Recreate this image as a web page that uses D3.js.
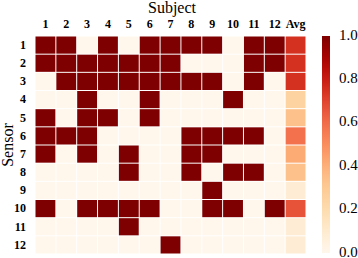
<!DOCTYPE html>
<html><head><meta charset="utf-8">
<script src="https://cdn.jsdelivr.net/npm/d3@7"></script>
<style>body{margin:0;background:#fff}svg{display:block}</style>
</head><body>
<script>
const subjects = ["1","2","3","4","5","6","7","8","9","10","11","12"];
const sensors = ["1","2","3","4","5","6","7","8","9","10","11","12"];
const row1  = [1,1,0,1,0,1,1,1,1,0,1,1];
const row2  = [1,1,1,1,1,1,1,0,0,0,1,1];
const row3  = [0,1,1,1,1,1,1,1,1,0,1,0];
const row4  = [0,0,1,0,0,1,0,0,0,1,0,0];
const row5  = [1,0,1,1,0,1,0,0,0,0,0,0];
const row6  = [1,1,1,0,0,0,0,1,1,1,1,0];
const row7  = [1,0,1,0,1,0,0,1,1,0,0,0];
const row8  = [0,0,0,0,1,0,0,1,0,1,1,0];
const row9  = [0,0,0,0,0,0,0,0,1,0,0,0];
const row10 = [1,0,1,1,1,1,0,0,1,1,0,1];
const row11 = [0,0,0,0,1,0,0,0,0,0,0,0];
const row12 = [0,0,0,0,0,0,1,0,0,0,0,0];
const colorTicks = [0,0.2,0.4,0.6,0.8,1.0];

const rows = [row1,row2,row3,row4,row5,row6,row7,row8,row9,row10,row11,row12];
const columns = subjects.concat(["Avg"]);
const cells = [];
rows.forEach((r,i)=>{
  r.forEach((v,j)=>cells.push({row:sensors[i], col:subjects[j], v}));
  cells.push({row:sensors[i], col:"Avg", v:d3.mean(r)});
});

const W=358,H=258;
const svg=d3.select("body").append("svg").attr("width",W).attr("height",H);
const x=d3.scaleBand().domain(columns).range([35,306]);
const y=d3.scaleBand().domain(sensors).range([36,254]);
const color=d3.scaleSequential(d3.interpolateOrRd).domain([0,1]);
const font="'Liberation Serif', 'Times New Roman', serif";

svg.append("g").selectAll("rect").data(cells).join("rect")
  .attr("x",d=>x(d.col)+0.5).attr("y",d=>y(d.row)+0.5)
  .attr("width",x.bandwidth()-1).attr("height",y.bandwidth()-1)
  .attr("fill",d=>color(d.v));

const xa=svg.append("g").attr("transform","translate(0,36)")
  .call(d3.axisTop(x).tickSize(0).tickPadding(8));
xa.select(".domain").remove();
xa.selectAll("text").attr("font-family",font).attr("font-size",12).attr("font-weight","bold").attr("fill","#000");

const ya=svg.append("g").attr("transform","translate(35,0)")
  .call(d3.axisLeft(y).tickSize(0).tickPadding(9));
ya.select(".domain").remove();
ya.selectAll("text").attr("font-family",font).attr("font-size",12).attr("font-weight","bold").attr("fill","#000");

svg.append("text").attr("x",172).attr("y",12.5).attr("text-anchor","middle")
  .attr("font-family",font).attr("font-size",16).text("Subject");
svg.append("text").attr("transform","translate(12.5,145) rotate(-90)").attr("text-anchor","middle")
  .attr("font-family",font).attr("font-size",16).text("Sensor");

// colorbar
const defs=svg.append("defs");
const grad=defs.append("linearGradient").attr("id","cb").attr("x1",0).attr("y1",1).attr("x2",0).attr("y2",0);
d3.range(0,1.0001,0.05).forEach(t=>grad.append("stop").attr("offset",t).attr("stop-color",color(t)));
const cy=d3.scaleLinear().domain([0,1]).range([253,36]);
svg.append("rect").attr("x",322).attr("y",36).attr("width",8).attr("height",217).attr("fill","url(#cb)");
const ca=svg.append("g").attr("transform","translate(330,0)")
  .call(d3.axisRight(cy).tickValues(colorTicks).tickFormat(d3.format(".1f")).tickSize(0).tickPadding(9));
ca.select(".domain").remove();
ca.selectAll("text").attr("font-family",font).attr("font-size",15).attr("fill","#000").attr("dy","0.2em");
</script>
</body></html>
